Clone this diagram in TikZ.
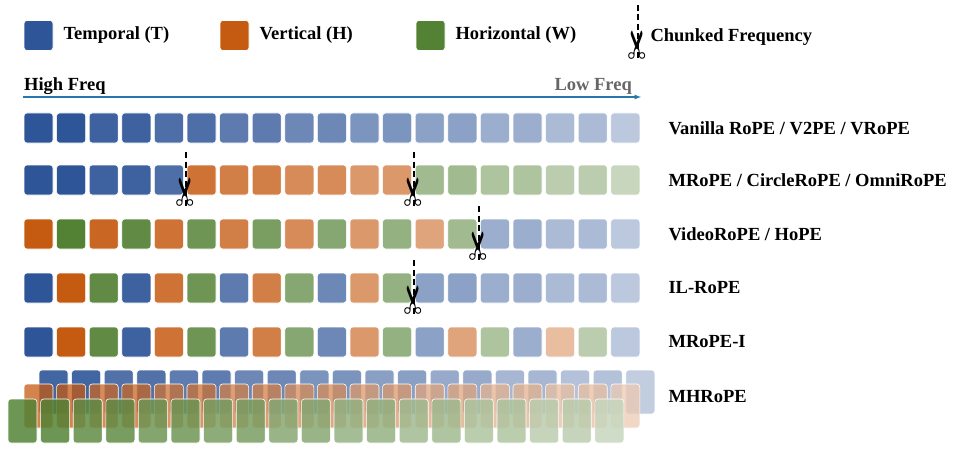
\documentclass[tikz,border=0pt]{standalone}
\usepackage{fontspec}
\setmainfont{Liberation Serif}
\usepackage{pifont}
\definecolor{tblue}{HTML}{2E5597}
\definecolor{horange}{HTML}{C55A11}
\definecolor{wgreen}{HTML}{548235}
\tikzset{
  cell/.style={draw=white, line width=0.6pt, rounded corners=3pt, minimum width=29pt, minimum height=30pt, inner sep=0pt},
  tall/.style={cell, minimum height=44pt},
  lbl/.style={anchor=west, font=\bfseries\fontsize{18.5}{18.5}\selectfont},
  cutline/.style={line width=1.8pt, dash pattern=on 6pt off 3.5pt},
  scis/.style={inner sep=0pt, rotate=90, scale=3.2}
}
\newcommand{\cutmark}[3]{% x, y, name
  \coordinate (#3a) at (#1,#2-28);
  \coordinate (#3b) at (#1,#2+27);
  \draw[cutline] (#3a) -- (#3b);
  \node[scis] (#3s) at (#1,#2+12) {\ding{34}};
}
\begin{document}
\begin{tikzpicture}[x=1pt,y=-1pt]
\useasboundingbox (0,0) rectangle (963,476);

% --- Legende ---
\node[cell, fill=tblue] (legT) at (38.5,35.5) {};
\node[lbl] (legTt) at (60,35.5) {Temporal (T)};
\node[cell, fill=horange] (legH) at (234.5,35.5) {};
\node[lbl] (legHt) at (256,35.5) {Vertical (H)};
\node[cell, fill=wgreen] (legW) at (430.5,35.5) {};
\node[lbl] (legWt) at (452,35.5) {Horizontal (W)};
\coordinate (legCa) at (638,5);
\coordinate (legCb) at (638,58);
\draw[cutline] (legCa) -- (legCb);
\node[scis] (legCs) at (638,45) {\ding{34}};
\node[lbl] (legCt) at (647,37) {Chunked Frequency};

% --- Axe des frequences ---
\node[lbl, inner sep=0pt] (hf) at (24,86) {High Freq};
\node[lbl, anchor=east, inner sep=0pt, text=black!60] (lf) at (632,86) {Low Freq};
\coordinate (axA) at (23,97);
\coordinate (axB) at (641,97);
\draw[-latex, color=tblue!80!cyan, line width=1.2pt] (axA) -- (axB);

% --- Vanilla RoPE ---
\foreach \i in {0,...,18} {
  \pgfmathsetmacro{\p}{100-7.5*floor(\i/2)}
  \node[cell, fill=tblue!\p!white] (r1c\i) at (38.5+32.6*\i,128) {};
}
\node[lbl] (r1) at (665,128) {Vanilla RoPE / V2PE / VRoPE};

% --- MRoPE ---
\foreach \i in {0,...,18} {
  \pgfmathsetmacro{\p}{100-7.5*floor(\i/2)}
  \pgfmathsetmacro{\c}{\i<5 ? "tblue" : (\i<12 ? "horange" : "wgreen")}
  \node[cell, fill=\c!\p!white] (r2c\i) at (38.5+32.6*\i,180) {};
}
\node[lbl] (r2) at (665,180) {MRoPE / CircleRoPE / OmniRoPE};
\cutmark{186}{180}{cutA}
\cutmark{414}{180}{cutB}

% --- VideoRoPE ---
\foreach \i in {0,...,18} {
  \pgfmathsetmacro{\p}{100-7.5*floor(\i/2)}
  \pgfmathsetmacro{\c}{\i>13 ? "tblue" : (mod(\i,2)==0 ? "horange" : "wgreen")}
  \node[cell, fill=\c!\p!white] (r3c\i) at (38.5+32.6*\i,234) {};
}
\node[lbl] (r3) at (665,234) {VideoRoPE / HoPE};
\cutmark{479}{234}{cutC}

% --- IL-RoPE ---
\foreach \i in {0,...,18} {
  \pgfmathsetmacro{\p}{100-7.5*floor(\i/2)}
  \pgfmathsetmacro{\c}{\i>11 ? "tblue" : (mod(\i,3)==0 ? "tblue" : (mod(\i,3)==1 ? "horange" : "wgreen"))}
  \node[cell, fill=\c!\p!white] (r4c\i) at (38.5+32.6*\i,288) {};
}
\node[lbl] (r4) at (665,288) {IL-RoPE};
\cutmark{414}{288}{cutD}

% --- MRoPE-I ---
\foreach \i in {0,...,18} {
  \pgfmathsetmacro{\p}{100-7.5*floor(\i/2)}
  \pgfmathsetmacro{\c}{mod(\i,3)==0 ? "tblue" : (mod(\i,3)==1 ? "horange" : "wgreen")}
  \node[cell, fill=\c!\p!white] (r5c\i) at (38.5+32.6*\i,342) {};
}
\node[lbl] (r5) at (665,342) {MRoPE-I};

% --- MHRoPE ---
\foreach \c/\dx/\y/\o [count=\k] in {tblue/15/392/0.9, horange/0/406/0.75, wgreen/-16/421/0.85} {
  \foreach \i in {0,...,18} {
    \pgfmathsetmacro{\p}{100-7.5*floor(\i/2)}
    \node[tall, fill=\c!\p!white, fill opacity=\o] (r6l\k c\i) at (38.5+\dx+32.6*\i,\y) {};
  }
}
\node[lbl] (r6) at (665,397) {MHRoPE};

\end{tikzpicture}
\end{document}
